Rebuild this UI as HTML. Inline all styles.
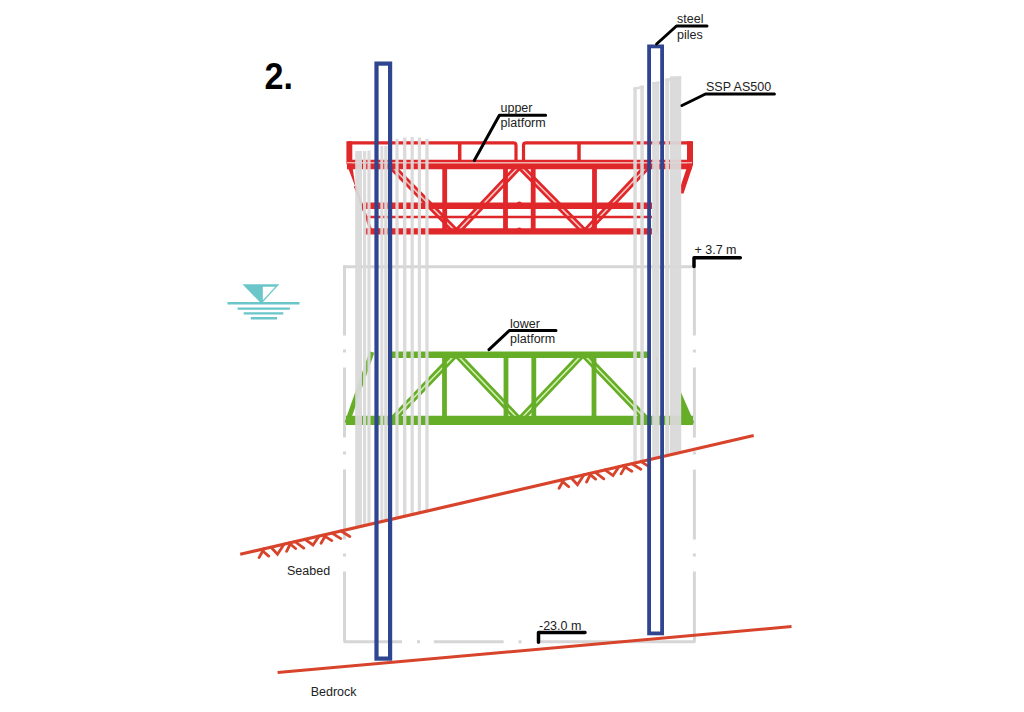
<!DOCTYPE html>
<html><head><meta charset="utf-8">
<style>
html,body{margin:0;padding:0;background:#fff;}
body{width:1024px;height:712px;overflow:hidden;}
svg{display:block;}
text{font-family:"Liberation Sans",sans-serif;fill:#222;}
</style></head>
<body>
<svg width="1024" height="712" viewBox="0 0 1024 712">
<rect x="0" y="0" width="1024" height="712" fill="#fff"/>
<g stroke="#d6d6d6" stroke-width="3" fill="none">
  <line x1="343" y1="266.7" x2="695.5" y2="266.7"/>
  <line x1="344.5" y1="265.5" x2="344.5" y2="642" stroke-dasharray="70 14 3 15"/>
  <line x1="694.4" y1="265.5" x2="694.4" y2="642" stroke-dasharray="70 14 3 15"/>
  <path d="M343.6,641.8H402M417,641.8H420M433.8,641.8H503.6M518.5,641.8H521.5M538,641.8H695.5"/>
</g>
<g stroke="#e0272a" fill="none">
<path d="M391,165.7L455.5,231.4M457.5,231.4L519.5,165.7M519.5,165.7L584,231.4M586,231.4L648,165.7" stroke="#e0272a" stroke-width="7.0" fill="none"/><path d="M391,165.7L455.5,231.4M457.5,231.4L519.5,165.7M519.5,165.7L584,231.4M586,231.4L648,165.7" stroke="#f8c4c0" stroke-width="1.6" fill="none"/>
<path d="M346.4,141.2 H352.3 V165 L355.4,187 L346.4,163.5 Z" fill="#e0272a" stroke="none"/>
  <path d="M355,186 L372,233" stroke-width="2.5"/>
  <path d="M348,142.8 H513.5 Q516,142.8 516,145.3 V161" stroke-width="3.2"/>
  <path d="M523.5,161 V145.3 Q523.5,142.8 526,142.8 H692" stroke-width="3.2"/>
  <path d="M687,141.2 H693 V165 L683.5,193.5 H681 V185 L687,167 Z" fill="#e0272a" stroke="none"/>
  <path d="M459.7,142.8V160M579,142.8V160" stroke-width="3.5"/>
  <path d="M347,162.7H692" stroke-width="2" stroke="#f2b0ac"/>
  <path d="M347,160.9H692" stroke-width="2.3"/>
  <path d="M347,166.4H692" stroke-width="5.8"/>
  <path d="M364,205.8H652" stroke-width="6.4"/>
  <path d="M364,217.1H652" stroke-width="2.5"/>
  <path d="M364,231.4H652" stroke-width="6.4"/>
  <circle cx="519.3" cy="204" r="2.6" fill="#e0272a" stroke="none"/>
  <circle cx="519.3" cy="230" r="2.6" fill="#e0272a" stroke="none"/>
  <path d="M444.7,165V232M505.5,165V232M533.2,165V232M594.5,165V232" stroke-width="4.8"/>
  <path d="M657,168V233" stroke-width="1.5"/>
</g>
<g stroke="#66ae28" fill="none">
<path d="M392,420.3L455,354.7M457,354.7L519.5,420.3M519.5,420.3L582,354.7M584,354.7L647,420.3" stroke="#66ae28" stroke-width="7.0" fill="none"/><path d="M392,420.3L455,354.7M457,354.7L519.5,420.3M519.5,420.3L582,354.7M584,354.7L647,420.3" stroke="#d4f0b0" stroke-width="1.6" fill="none"/>
<path d="M347,423 L372,352" stroke-width="5"/>
  <path d="M388,354.7H648" stroke-width="6.5"/>
  <path d="M346,419H693" stroke-width="6.5"/>
  <path d="M346,423.5H693" stroke-width="2.8"/>
  <path d="M681,392.3 L694,422 L692.5,425 L681,425 Z" fill="#66ae28" stroke="none"/>
  <path d="M444.5,355V420M506,355V420M533.8,355V420M594,355V420" stroke-width="4.8"/>
  <path d="M657,358V418" stroke-width="1.5"/>
</g>
<g fill="#d9d9d9" fill-opacity="0.94">
<polygon points="355.2,151 362.0,151 362.0,526.1 355.2,527.7"/>
<polygon points="363.0,151 366.2,151 366.2,525.2 363.0,525.9"/>
<polygon points="367.4,150.5 370.6,150.5 370.6,524.1 367.4,524.9"/>
<polygon points="380.3,146 383.3,146 383.3,521.2 380.3,521.9"/>
<polygon points="384.2,146 387.6,146 387.6,520.2 384.2,521.0"/>
<polygon points="395.4,139 398.6,139 398.6,517.7 395.4,518.4"/>
<polygon points="403.0,137.5 406.4,137.5 406.4,515.9 403.0,516.6"/>
<polygon points="410.6,137 413.8,137 413.8,514.1 410.6,514.9"/>
<polygon points="417.8,137.5 421.0,137.5 421.0,512.5 417.8,513.2"/>
<polygon points="425.3,139 428.6,139 428.6,510.7 425.3,511.5"/>
<polygon points="633.3,87.5 636.8,87.5 636.8,462.6 633.3,463.4"/>
<polygon points="640.3,85.5 643.8,85.5 643.8,460.9 640.3,461.8"/>
<polygon points="652.2,82 659.4,82 659.4,457.3 652.2,459.0"/>
<polygon points="665.2,78.5 669.3,78.5 669.3,455.0 665.2,456.0"/>
<polygon points="670.0,76.3 681.2,76.3 681.2,452.3 670.0,454.9"/>
<polygon points="633.3,87.6 644,85.4 644,88 633.3,90.2"/>
<polygon points="652.2,82.6 659.4,81 659.4,83.5 652.2,85.1"/>
<polygon points="665.2,78.8 681.2,76 681.2,79 665.2,81.8"/>
</g>
<line x1="240.2" y1="554.3" x2="753.7" y2="435.5" stroke="#d8432b" stroke-width="3.2"/>
<path d="M264.0,548.8l-4.95,8.8M261.0,549.5l7.700000000000001,6.6000000000000005M271.0,547.2L277.5,554.2L284.0,544.2M291.0,542.5l-4.4,8.8M289.0,543.0l6.6000000000000005,5.5M295.0,541.6l8.8,6.6000000000000005M305.0,539.3L313.0,545.0L319.0,536.1M326.0,534.5l-4.95,8.8M323.0,535.1l8.8,5.5M332.0,533.1l8.8,5.5M341.0,531.0l8.8,5.5M564.0,479.4l-4.95,8.8M561.0,480.1l7.700000000000001,6.6000000000000005M571.0,477.8L577.5,484.8L584.0,474.8M591.0,473.2l-4.4,8.8M589.0,473.6l6.6000000000000005,5.5M595.0,472.2l8.8,6.6000000000000005M605.0,469.9L613.0,475.6L619.0,466.7M626.0,465.1l-4.95,8.8M623.0,465.8l8.8,5.5M632.0,463.7l8.8,5.5M641.0,461.6l8.8,5.5" stroke="#d8432b" stroke-width="2.8" fill="none" stroke-linecap="round"/>
<line x1="277.6" y1="672.5" x2="791.5" y2="626.6" stroke="#d8432b" stroke-width="3"/>
<g stroke="#2f4590" fill="none">
  <rect x="376.5" y="63.6" width="13.6" height="595" stroke-width="4.2"/>
  <rect x="649.1" y="46.4" width="13" height="587" stroke-width="3.8"/>
</g>
<g stroke="#000" fill="none" stroke-width="3" stroke-linejoin="round" stroke-linecap="round">
  <path d="M656.6,44 L676.5,26 H707"/>
  <path d="M682,105.5 L705.5,94 H774.4"/>
  <path d="M474.3,160.4 L499.4,115.2 H545.6"/>
  <path d="M489,349.6 L509.3,330.6 H556"/>
  <path d="M694,266.6 V257.8 H740.3" stroke-width="3.5"/>
  <path d="M538.5,642.2 V632.5 H585" stroke-width="3.5"/>
</g>
<g font-size="12.5">
  <text x="677" y="23">steel</text>
  <text x="677" y="38.5">piles</text>
  <text x="706" y="91">SSP AS500</text>
  <text x="500.5" y="111.5">upper</text>
  <text x="500.5" y="127">platform</text>
  <text x="510" y="327.7">lower</text>
  <text x="510" y="343">platform</text>
  <text x="694.5" y="254.4">+ 3.7 m</text>
  <text x="539" y="630">-23.0 m</text>
  <text x="287" y="574.7">Seabed</text>
  <text x="310.7" y="696">Bedrock</text>
</g>
<text transform="translate(264.6,89.1) scale(0.91,1)" x="0" y="0" font-size="37.5" font-weight="bold" style="fill:#000">2.</text>
<g fill="#6ac6c9" stroke="#6ac6c9">
  <path d="M242.5,284.3 L279.3,284.3 L262.5,302.6 L260.3,302.6 Z" stroke="none"/>
  <path d="M262.8,286.7 L275.3,286.7 L262.8,300.2 Z" stroke="none" fill="#fff"/>
  <path d="M227.5,303.3H299.5M237.6,308.6H289.9M243.7,313.4H283.3M250.8,318.2H277.1" stroke-width="2.4" fill="none"/>
</g>
</svg>
</body></html>
